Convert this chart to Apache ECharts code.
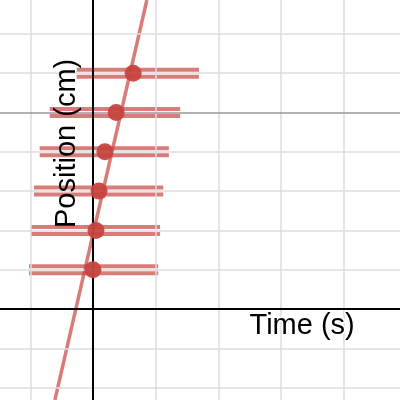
<!DOCTYPE html><html><head><meta charset="utf-8"><script src="https://cdn.jsdelivr.net/npm/echarts@6/dist/echarts.min.js"></script></head><body style="margin:0"><div id="c" style="width:400px;height:400px"></div><script>
const xs=[0.64,0.37,0.19,0.096,0.048,0];
const ys=[6,5,4,3,2,1];
const xLow=[-0.26,-0.69,-0.85,-0.94,-0.99,-1.02];
const xHigh=[1.69,1.39,1.21,1.12,1.07,1.04];
const fitSlope=6.94, fitIntercept=1.9;
const xGrid=[-1,1,2,3,4], yGrid=[-2,-1,1,2,3,4,6,7];
const RED='#c74440';
const c=echarts.init(document.getElementById('c'));
const ml=[];
xGrid.forEach(v=>ml.push({xAxis:v,lineStyle:{color:'#ddd',width:1.5,type:'solid'}}));
yGrid.forEach(v=>ml.push({yAxis:v,lineStyle:{color:'#ddd',width:1.5,type:'solid'}}));
ml.push({yAxis:5,lineStyle:{color:'#999',width:1.5,type:'solid'}});
ml.push({xAxis:0,lineStyle:{color:'#000',width:2,type:'solid'}});
ml.push({yAxis:0,lineStyle:{color:'#000',width:2,type:'solid'}});
const yMin=-2.315,yMax=7.863;
c.setOption({animation:false,
grid:{left:0,right:0,top:0,bottom:0},
xAxis:{type:'value',min:-1.483,max:4.896,show:false},
yAxis:{type:'value',min:yMin,max:yMax,show:false},
series:[
{type:'line',data:[],silent:true,markLine:{symbol:'none',label:{show:false},data:ml,silent:true}},
{type:'custom',renderItem:(p,api)=>{const i=p.dataIndex;const a=api.coord([xLow[i],ys[i]]),b=api.coord([xHigh[i],ys[i]]);
 return {type:'group',children:[-3.5,3.5].map(o=>({type:'line',shape:{x1:a[0],y1:a[1]+o,x2:b[0],y2:b[1]+o},style:{stroke:RED,lineWidth:4,opacity:0.7}}))};},
 data:ys.map((y,i)=>[xLow[i],xHigh[i],y]),z:3},
{type:'line',data:[[(yMin-fitIntercept)/fitSlope,yMin],[(yMax-fitIntercept)/fitSlope,yMax]],symbol:'none',lineStyle:{color:RED,width:3.5,opacity:0.7},z:4},
{type:'scatter',data:xs.map((x,i)=>[x,ys[i]]),symbolSize:17,itemStyle:{color:RED,opacity:0.95},z:5}
],
graphic:[
{type:'text',left:248,top:310,style:{text:'Time (s)',font:'29px "Liberation Sans", Arial',fill:'#000',stroke:'#fff',lineWidth:3},z:10},
{type:'text',x:52,y:228,rotation:Math.PI/2,style:{text:'Position (cm)',font:'29px "Liberation Sans", Arial',fill:'#000'},z:10}
]});
</script></body></html>
